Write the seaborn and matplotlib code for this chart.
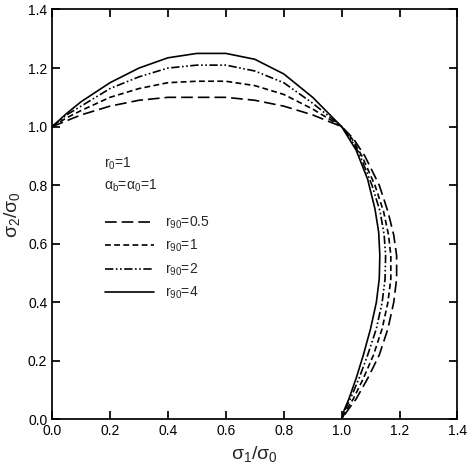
import matplotlib
matplotlib.use("Agg")
import matplotlib.pyplot as plt
import seaborn as sns
import pandas as pd

sns.set_theme(style="ticks")
plt.rcParams['font.family'] = ['Liberation Sans', 'DejaVu Sans']
plt.rcParams['mathtext.fontset'] = 'custom'
plt.rcParams['mathtext.rm'] = 'Liberation Sans'
plt.rcParams['mathtext.it'] = 'Liberation Sans'

labels = ["0.5", "1", "2", "4"]
x05 = [0,0.05,0.1,0.2,0.3,0.4,0.5,0.6,0.7,0.8,0.9,0.95,1.0,1.04,1.08,1.13,1.16,1.18,1.19,1.19,1.18,1.16,1.13,1.09,1.05,1.02,1.0]
y05 = [1,1.02,1.04,1.07,1.09,1.10,1.10,1.10,1.09,1.07,1.04,1.02,1.0,0.96,0.90,0.80,0.71,0.63,0.56,0.48,0.40,0.31,0.22,0.14,0.07,0.03,0.0]
x1 = [0,0.05,0.1,0.2,0.3,0.4,0.5,0.6,0.7,0.8,0.9,0.95,1.0,1.035,1.07,1.115,1.145,1.162,1.17,1.17,1.16,1.14,1.11,1.075,1.04,1.015,1.0]
y1 = [1,1.03,1.055,1.10,1.13,1.15,1.155,1.155,1.14,1.11,1.06,1.03,1.0,0.96,0.90,0.80,0.71,0.63,0.56,0.48,0.40,0.31,0.22,0.14,0.07,0.03,0.0]
x2 = [0,0.05,0.1,0.2,0.3,0.4,0.5,0.6,0.7,0.8,0.9,0.95,1.0,1.03,1.06,1.105,1.133,1.147,1.152,1.15,1.14,1.12,1.09,1.06,1.03,1.01,1.0]
y2 = [1,1.04,1.07,1.13,1.17,1.20,1.21,1.21,1.19,1.15,1.08,1.04,1.0,0.96,0.91,0.80,0.71,0.63,0.56,0.48,0.40,0.31,0.22,0.14,0.07,0.03,0.0]
x4 = [0,0.05,0.1,0.2,0.3,0.4,0.5,0.6,0.7,0.8,0.9,0.95,1.0,1.025,1.05,1.09,1.115,1.128,1.132,1.13,1.12,1.10,1.075,1.05,1.025,1.008,1.0]
y4 = [1,1.045,1.085,1.15,1.20,1.235,1.25,1.25,1.23,1.18,1.10,1.05,1.0,0.96,0.92,0.82,0.72,0.64,0.56,0.48,0.40,0.31,0.22,0.14,0.07,0.03,0.0]

rows = []
for lab, xs, ys in zip(labels, [x05, x1, x2, x4], [y05, y1, y2, y4]):
    for i, (a, b) in enumerate(zip(xs, ys)):
        rows.append(dict(r=lab, x=a, y=b, i=i))
df = pd.DataFrame(rows)

styles = {"0.5": (0, (7, 3)), "1": (0, (3.5, 2)), "2": (0, (5, 1.5, 1, 1.5, 1, 1.5)), "4": "-"}

fig, ax = plt.subplots(figsize=(4.74, 4.74), dpi=100)
for lab in labels:
    d = df[df.r == lab]
    sns.lineplot(data=d, x="x", y="y", sort=False, estimator=None, ax=ax,
                 color="black", lw=1.2, linestyle=styles[lab],
                 label=r"r$_{90}$=" + lab)

ax.set_xlim(0, 1.4)
ax.set_ylim(0, 1.4)
ax.set_xticks([0, 0.2, 0.4, 0.6, 0.8, 1.0, 1.2, 1.4])
ax.set_yticks([0, 0.2, 0.4, 0.6, 0.8, 1.0, 1.2, 1.4])
ax.xaxis.set_major_formatter(matplotlib.ticker.FormatStrFormatter('%.1f'))
ax.yaxis.set_major_formatter(matplotlib.ticker.FormatStrFormatter('%.1f'))
ax.tick_params(direction='in', top=True, right=True, labelsize=10, colors='black')
for s in ax.spines.values():
    s.set_color('black')
ax.set_xlabel(r"σ$_1$/σ$_0$", fontsize=14)
ax.set_ylabel(r"σ$_2$/σ$_0$", fontsize=14)
ax.text(0.18, 0.86, r"r$_0$=1", fontsize=10)
ax.text(0.18, 0.785, r"α$_b$=α$_0$=1", fontsize=10)
ax.legend(loc='upper left', bbox_to_anchor=(0.1, 0.53), frameon=False,
          fontsize=10, handlelength=3.5, labelspacing=0.5)
fig.subplots_adjust(left=0.11, right=0.965, top=0.98, bottom=0.115)
fig.savefig("out.png", dpi=100)
